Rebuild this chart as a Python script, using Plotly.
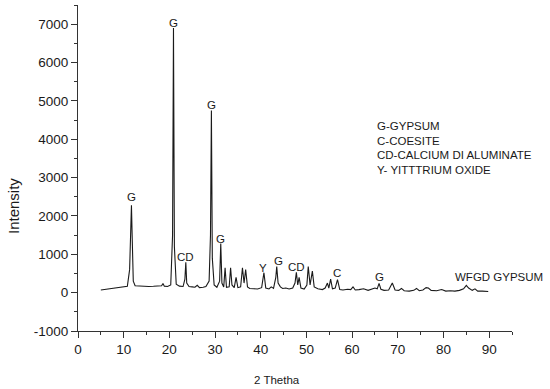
import plotly.graph_objects as go

# 2-theta positions and intensities
two_theta = [
    5.0, 6.0, 7.0, 8.0, 9.0, 10.0, 10.8, 11.3, 11.55, 11.7,
    11.85, 12.1, 12.5, 13.5, 14.5, 15.5, 16.5, 17.5, 18.3, 18.6,
    18.9, 19.6, 20.3, 20.7, 20.9, 21.1, 21.5, 22.2, 23.0, 23.4,
    23.6, 23.8, 24.3, 25.0, 25.6, 26.1, 26.6, 27.4, 28.0, 28.7,
    29.0, 29.2, 29.4, 29.8, 30.4, 31.0, 31.25, 31.5, 31.9, 32.2,
    32.5, 33.1, 33.4, 33.7, 34.2, 34.6, 35.0, 35.6, 36.0, 36.35,
    36.7, 37.1, 37.6, 38.5, 39.3, 40.2, 40.7, 41.1, 41.8, 42.3,
    42.8, 43.3, 43.5, 43.8, 44.3, 44.8, 45.5, 46.2, 47.0, 47.5,
    47.8, 48.1, 48.4, 48.8, 49.5, 50.1, 50.4, 50.8, 51.3, 51.7,
    52.5, 53.5, 54.1, 54.6, 54.9, 55.3, 55.7, 56.3, 56.8, 57.3,
    58.0, 59.0, 59.7, 60.2, 60.7, 61.5, 62.5, 63.5, 64.3, 65.0,
    65.5, 65.9, 66.3, 67.0, 68.0, 68.8, 69.4, 70.2, 70.8, 71.4,
    72.5, 73.5, 74.1, 74.7, 75.5, 76.2, 76.7, 77.3, 78.5, 79.6,
    80.5, 81.5, 82.5, 83.5, 84.4, 85.0, 85.5, 86.3, 86.9, 87.5,
    88.5, 89.8,
]
intensity = [
    70, 85, 100, 115, 125, 140, 165, 600, 1900, 2280,
    1500, 300, 180, 170, 165, 160, 165, 170, 180, 240,
    170, 160, 200, 1500, 6900, 1200, 220, 170, 160, 350,
    790, 250, 160, 150, 140, 190, 130, 140, 160, 300,
    1500, 4750, 900, 200, 140, 300, 1280, 250, 150, 650,
    140, 150, 650, 200, 130, 400, 130, 150, 650, 250,
    600, 150, 110, 100, 95, 130, 520, 120, 95, 150,
    110, 400, 680, 250, 150, 110, 120, 95, 120, 250,
    530, 200, 400, 120, 95, 200, 680, 200, 560, 150,
    100, 80, 120, 250, 120, 350, 100, 120, 340, 80,
    70, 90, 80, 150, 70, 80, 100, 60, 90, 120,
    100, 240, 90, 60, 70, 250, 70, 60, 110, 50,
    40, 60, 110, 50, 70, 130, 120, 60, 50, 80,
    40, 50, 40, 60, 100, 190, 120, 60, 100, 40,
    40, 30,
]

# Peak labels
label_text = ["G", "G", "CD", "G", "G", "Y", "G", "CD", "C", "G"]
label_x = [11.7, 20.9, 23.6, 29.2, 31.2, 40.6, 43.9, 47.8, 56.8, 65.9]
label_y = [2490, 7030, 940, 4880, 1410, 650, 820, 680, 505, 400]

key_lines = ["G-GYPSUM", "C-COESITE", "CD-CALCIUM DI ALUMINATE", "Y- YITTTRIUM OXIDE"]

x_ticks = [0, 10, 20, 30, 40, 50, 60, 70, 80, 90]
y_ticks = [-1000, 0, 1000, 2000, 3000, 4000, 5000, 6000, 7000]
y_tick_text = ["-1000", "0", "1000", "2000", "3000", "4000", "5000", "6000", "7000"]

FONT = "Liberation Sans, Arial, sans-serif"
INK = "#1a1a1a"
W, H = 550, 389
L, R, T, B = 78, 38, 5, 58
PW, PH = W - L - R, H - T - B

fig = go.Figure()
fig.add_trace(go.Scatter(
    x=two_theta, y=intensity, mode="lines",
    line=dict(color=INK, width=1.1),
    showlegend=False, hoverinfo="skip",
))

annotations = []
for t, x, y in zip(label_text, label_x, label_y):
    annotations.append(dict(x=x, y=y, xref="x", yref="y", text=t, showarrow=False,
                            xanchor="center", yanchor="middle",
                            font=dict(family=FONT, size=11.5, color=INK)))

annotations.append(dict(x=92.1, y=420, xref="x", yref="y", text="WFGD GYPSUM",
                        showarrow=False, xanchor="center", yanchor="middle",
                        font=dict(family=FONT, size=11.5, color=INK)))

for i, line in enumerate(key_lines):
    py = 125.7 + i * 14.8
    annotations.append(dict(x=(375 - L) / PW, y=(H - B - py) / PH, xref="paper", yref="paper",
                            text=line, showarrow=False, xanchor="left", yanchor="middle",
                            font=dict(family=FONT, size=11.5, color=INK)))

# axis titles placed at their pixel positions
annotations.append(dict(x=(277 - L) / PW, y=(H - B - 380) / PH, xref="paper", yref="paper",
                        text="2 Thetha", showarrow=False, xanchor="center", yanchor="middle",
                        font=dict(family=FONT, size=11.5, color=INK)))
annotations.append(dict(x=(13 - L) / PW, y=(H - B - 206) / PH, xref="paper", yref="paper",
                        text="Intensity", showarrow=False, xanchor="center", yanchor="middle",
                        textangle=-90, font=dict(family=FONT, size=15, color=INK)))

fig.update_layout(
    width=W, height=H,
    margin=dict(l=L, r=R, t=T, b=B, autoexpand=False),
    paper_bgcolor="white", plot_bgcolor="white",
    font=dict(family=FONT, color=INK),
    annotations=annotations,
    xaxis=dict(
        range=[0, 95], tickmode="array", tickvals=x_ticks,
        ticks="outside", ticklen=6, tickwidth=1, tickcolor="#333",
        minor=dict(tickvals=[5, 15, 25, 35, 45, 55, 65, 75, 85, 95], ticks="outside",
                   ticklen=3, tickcolor="#333", showgrid=False),
        showline=True, linecolor="#333", linewidth=1, showgrid=False, zeroline=False,
        tickfont=dict(size=13.5), mirror=False, automargin=False,
    ),
    yaxis=dict(
        range=[-1000, 7500], tickmode="array", tickvals=y_ticks, ticktext=y_tick_text,
        ticks="outside", ticklen=6, tickwidth=1, tickcolor="#333",
        minor=dict(tickvals=[-500, 500, 1500, 2500, 3500, 4500, 5500, 6500, 7500], ticks="outside",
                   ticklen=3, tickcolor="#333", showgrid=False),
        showline=True, linecolor="#333", linewidth=1, showgrid=False, zeroline=False,
        tickfont=dict(size=13.5), mirror=False, automargin=False,
    ),
)

fig.write_html(
    "out.html",
    config={"displayModeBar": False},
    post_script="document.body.style.margin='0';document.body.style.overflow='hidden';",
)
